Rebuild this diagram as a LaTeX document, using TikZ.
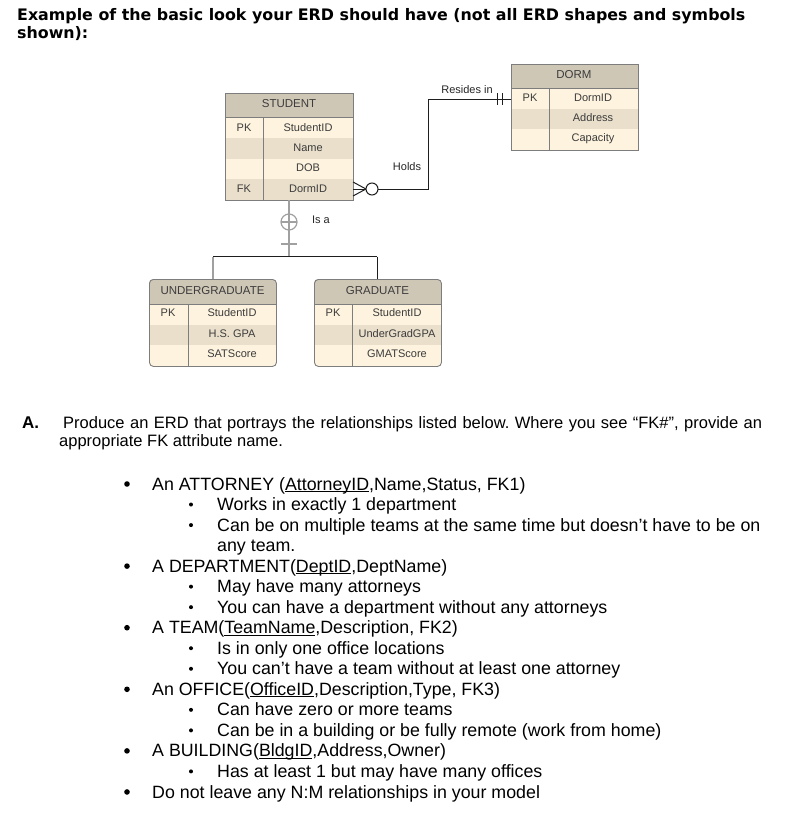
\documentclass[tikz,border=0pt]{standalone}
\usepackage{fontspec}
\setmainfont{Liberation Sans}
\newfontfamily\titlefont{DejaVu Sans}
\definecolor{hdrc}{RGB}{207,199,182}
\definecolor{rowlt}{RGB}{253,243,222}
\definecolor{rowdk}{RGB}{233,223,203}
\definecolor{tblline}{RGB}{125,125,125}
\definecolor{celltext}{RGB}{60,60,60}
\definecolor{conn}{RGB}{30,30,30}
\definecolor{isagray}{RGB}{160,160,160}
\newlength\ulw
\newcommand\ulin[1]{\settowidth\ulw{#1}\rlap{\rule[-1.7pt]{\ulw}{0.9pt}}#1}
\newcommand\ertab[8]{%
  \begin{scope}
    \clip[rounded corners=#8] (#1,#4) rectangle (#3,#6);
    \fill[hdrc] (#1,#4) rectangle (#3,#5);
    \pgfmathsetmacro\rh{(#6-#5)/#7}
    \foreach \i in {1,...,#7}{%
      \pgfmathsetmacro\ya{#5+(\i-1)*\rh}%
      \pgfmathsetmacro\yb{#5+\i*\rh}%
      \ifodd\i\def\rc{rowlt}\else\def\rc{rowdk}\fi
      \fill[\rc] (#1,\ya) rectangle (#3,\yb);
    }
  \end{scope}
  \draw[tbl] (#1,#5) -- (#3,#5);
  \draw[tbl] (#2,#5) -- (#2,#6);
}
\begin{document}
\frenchspacing
\begin{tikzpicture}[x=1pt,y=-1pt,
  tbl/.style={draw=tblline, line width=0.9pt},
  tblbox/.style={tbl, inner sep=0pt, anchor=north west},
  cell/.style={font=\fontsize{11}{13}\selectfont, text=celltext, inner sep=0pt, text height=7.9pt, text depth=0pt, anchor=center},
  hcell/.style={cell, font=\fontsize{11.5}{13}\selectfont},
  lbl/.style={font=\fontsize{11}{13}\selectfont, text=black!85, inner sep=0pt, text height=7.9pt, text depth=0pt, anchor=center},
  titletext/.style={font=\titlefont\bfseries\fontsize{15.85}{18}\selectfont, inner sep=0pt, anchor=base west},
  body/.style={font=\fontsize{17.8}{20}\selectfont, inner sep=0pt, anchor=base west},
  abody/.style={font=\fontsize{16.5}{18}\selectfont, inner sep=0pt, anchor=base west},
  conline/.style={draw=conn, line width=1pt},
  isaline/.style={draw=isagray, line width=1.2pt}
]
\useasboundingbox[fill=white] (0,0) rectangle (811,814);

% Title
\node[titletext] (title1) at (17,20) {Example of the basic look your ERD should have (not all ERD shapes and symbols};
\node[titletext] (title2) at (17,38) {shown):};

% STUDENT table
\ertab{225}{263}{353}{93}{117}{200}{4}{0}
\node[tblbox, minimum width=128pt, minimum height=107pt] (student) at (225,93) {};
\node[hcell] (sh) at (289,104) {STUDENT};
\node[cell] (s1a) at (244,128) {PK};
\node[cell] (s1b) at (308,128) {StudentID};
\node[cell] (s2b) at (308,148) {Name};
\node[cell] (s3b) at (308,168) {DOB};
\node[cell] (s4a) at (244,189) {FK};
\node[cell] (s4b) at (308,189) {DormID};

% DORM table
\ertab{511}{549}{638}{64}{88}{150}{3}{0}
\node[tblbox, minimum width=127pt, minimum height=86pt] (dorm) at (511,64) {};
\node[hcell] (dh) at (574,75) {DORM};
\node[cell] (d1a) at (530,98) {PK};
\node[cell] (d1b) at (593,98) {DormID};
\node[cell] (d2b) at (593,118) {Address};
\node[cell] (d3b) at (593,138) {Capacity};

% UNDERGRADUATE table
\ertab{149}{188}{276}{279}{304}{366}{3}{4}
\node[tblbox, rounded corners=4pt, minimum width=127pt, minimum height=87pt] (ugrad) at (149,279) {};
\node[hcell] (uh) at (212.5,291) {UNDERGRADUATE};
\node[cell] (u1a) at (168,313) {PK};
\node[cell] (u1b) at (232,313) {StudentID};
\node[cell] (u2b) at (232,334) {H.S. GPA};
\node[cell] (u3b) at (232,354) {SATScore};

% GRADUATE table
\ertab{314}{352}{441}{279}{304}{366}{3}{4}
\node[tblbox, rounded corners=4pt, minimum width=127pt, minimum height=87pt] (grad) at (314,279) {};
\node[hcell] (gh) at (377.5,291) {GRADUATE};
\node[cell] (g1a) at (333,313) {PK};
\node[cell] (g1b) at (397,313) {StudentID};
\node[cell] (g2b) at (397,334) {UnderGradGPA};
\node[cell] (g3b) at (397,354) {GMATScore};

% Holds / Resides in relationship
\coordinate (hS) at (353,189);
\coordinate (hBend) at (428.5,140);
\coordinate (hD) at (511,99);
\draw[conline] (hS) -| (hBend) |- (hD);
\draw[conline] (353,182) -- (366,189) (353,196) -- (366,189);
\draw[conline, fill=white] (372,189) circle (6);
\draw[conline] (497,93) -- (497,105) (502,93) -- (502,105);
\node[lbl] (resides) at (467,90) {Resides in};
\node[lbl] (holds) at (407,167) {Holds};

% Is a relationship
\coordinate (isaTop) at (289,200);
\coordinate (isaJoin) at (289,256.5);
\coordinate (isaL) at (213,256.5);
\coordinate (isaR) at (377,256.5);
\coordinate (ugTop) at (213,279);
\coordinate (gTop) at (377,279);
\draw[isaline] (isaTop) -- (isaJoin);
\draw[isaline, fill=white] (289,222) circle (8);
\draw[isaline] (281,222) -- (297,222) (289,214) -- (289,230);
\draw[isaline] (281,244) -- (297,244);
\draw[isaline] (isaL) -- (ugTop);
\draw[conline] (isaL) -- (isaR);
\draw[conline] (isaR) -- (gTop);
\node[lbl] (isa) at (321,220) {Is a};

% Section A
\node[inner sep=0pt, anchor=base west, font=\bfseries\fontsize{17}{20}\selectfont] (aA) at (22,428) {A.};
\node[abody] (a1) at (63,428) {\makebox[699pt][s]{Produce an ERD that portrays the relationships listed below. Where you see “FK\#”, provide an}};
\node[abody] (a2) at (59,446) {appropriate FK attribute name.};

% Bullet list
\foreach \yy in {0,4,7,10,13,15}{\fill (127,484+20.53*\yy) circle (2.8);}
\foreach \yy in {1,2,5,6,8,9,11,12,14}{\fill (191,484+20.53*\yy) circle (2.0);}
\node[body] (b1) at (152,490) {An ATTORNEY (\ulin{AttorneyID},Name,Status, FK1)};
\node[body] (b2) at (217,510.5) {Works in exactly 1 department};
\node[body] (b3) at (217,531.1) {Can be on multiple teams at the same time but doesn’t have to be on};
\node[body] (b4) at (217,551.6) {any team.};
\node[body] (b5) at (152,572.1) {A DEPARTMENT(\ulin{DeptID},DeptName)};
\node[body] (b6) at (217,592.7) {May have many attorneys};
\node[body] (b7) at (217,613.2) {You can have a department without any attorneys};
\node[body] (b8) at (152,633.7) {A TEAM(\ulin{TeamName},Description, FK2)};
\node[body] (b9) at (217,654.2) {Is in only one office locations};
\node[body] (b10) at (217,674.8) {You can’t have a team without at least one attorney};
\node[body] (b11) at (152,695.3) {An OFFICE(\ulin{OfficeID},Description,Type, FK3)};
\node[body] (b12) at (217,715.8) {Can have zero or more teams};
\node[body] (b13) at (217,736.4) {Can be in a building or be fully remote (work from home)};
\node[body] (b14) at (152,756.9) {A BUILDING(\ulin{BldgID},Address,Owner)};
\node[body] (b15) at (217,777.4) {Has at least 1 but may have many offices};
\node[body] (b16) at (152,798) {Do not leave any N:M relationships in your model};
\end{tikzpicture}
\end{document}
